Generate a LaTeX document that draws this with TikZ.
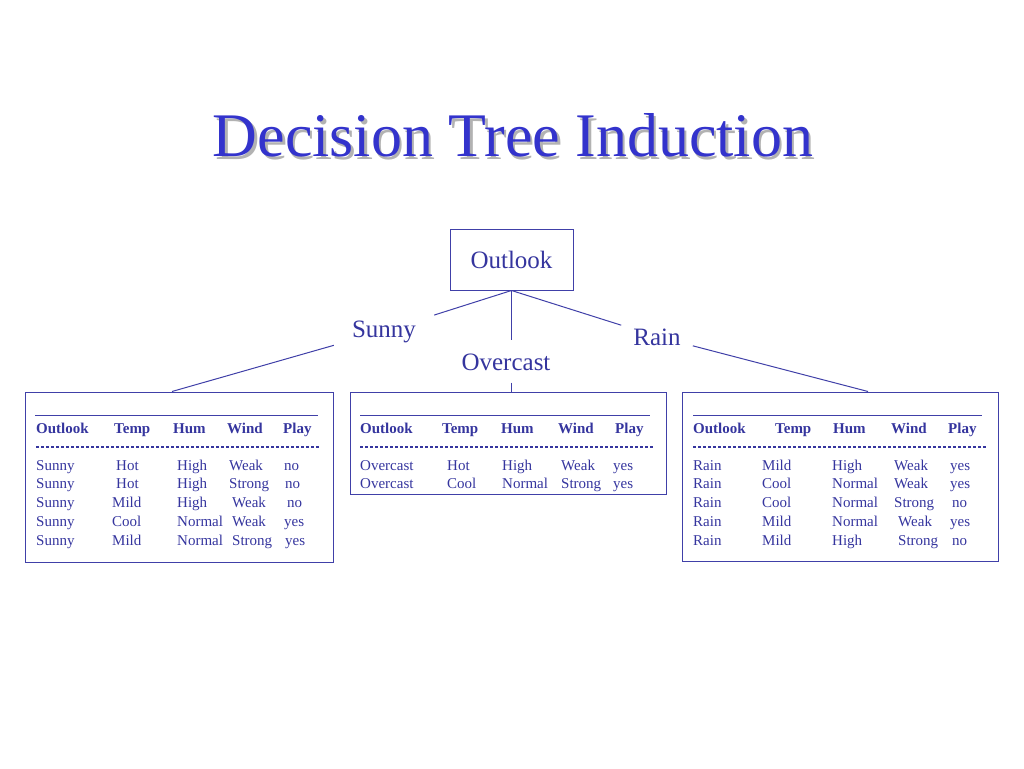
\documentclass[tikz,border=0pt]{standalone}
\usepackage{fontspec}
\setmainfont{Liberation Serif}
\usetikzlibrary{calc}
\definecolor{slideblue}{HTML}{3333CC}
\definecolor{inkblue}{HTML}{35359E}
\definecolor{rulec}{HTML}{4040A8}
\newcommand\sh[1]{\hspace*{#1pt}}
\tikzset{
  titletext/.style={font=\fontsize{62}{70}\selectfont, inner sep=0pt, anchor=base},
  rootbox/.style={draw=rulec, line width=1pt, text=inkblue, font=\fontsize{25}{30}\selectfont,
    minimum width=123pt, minimum height=61pt, inner sep=0pt},
  branch/.style={text=inkblue, font=\fontsize{25}{30}\selectfont, text height=17pt, text depth=5pt, anchor=base},
  branchline/.style={draw=rulec, line width=1pt},
  tabbox/.style={draw=rulec, line width=1pt, inner sep=0pt},
  rows/.style={text=inkblue, font=\fontsize{15}{18.75}\selectfont, inner sep=0pt, anchor=base west},
  tabrule/.style={draw=rulec, line width=1pt},
  tabdash/.style={draw=inkblue, line width=1.6pt, dash pattern=on 3.3pt off 1.7pt}
}

\begin{document}
\begin{tikzpicture}[x=1pt,y=-1pt]
		%%%%% START %%%%%
		\useasboundingbox (0,0) rectangle (1024,768);
		
		\node[titletext, text=black!30] (titleshadow) at (515.5,159) {Decision Tree Induction};
		\node[titletext, text=slideblue] (title) at (513,156) {Decision Tree Induction};
		
		\node[rootbox] (outlook) at (511.5,259.5) {Outlook};
		
		\node[branch, inner xsep=18pt, inner ysep=6pt] (sunny) at (384,337) {Sunny};
		\node[branch, text depth=0pt, inner xsep=12pt, inner ysep=6pt] (rain) at (657,345) {Rain};
		\node[branch, text depth=0pt, inner ysep=12.5pt] (overcast) at (506,370) {Overcast};
		
		\node[tabbox, minimum width=308pt, minimum height=170pt] (sunnytab) at (179,477) {};
		\node[tabbox, minimum width=316pt, minimum height=102pt] (overcasttab) at (508,443) {};
		\node[tabbox, minimum width=316pt, minimum height=169pt] (raintab) at (840,476.5) {};
		
		\coordinate (sunnyend) at ([xshift=-7pt]sunnytab.north);
		\coordinate (rainend) at ([xshift=28pt]raintab.north);
		\draw[branchline] (outlook.south) -- (sunny) -- (sunnyend);
		\draw[branchline] (outlook.south) -- (rain) -- (rainend);
		\draw[branchline] (outlook.south) -- (outlook.south |- overcast.north);
		\draw[branchline] (outlook.south |- overcast.south) -- (outlook.south |- overcasttab.north);
		
		% sunny
		\draw[tabrule] (35,415) -- (318,415);
		\draw[tabdash] (36,447) -- (319,447);
		\node[rows] (sunnyrows) at (36,433) {\setlength{\tabcolsep}{0pt}%
			\begin{tabular}[t]{@{}p{76pt}p{65pt}p{52pt}p{55pt}l@{}}
				\textbf{Outlook} & \sh{2}\textbf{Temp} & \sh{-4}\textbf{Hum} & \sh{-2}\textbf{Wind} & \sh{-1}\textbf{Play}\\[18.25pt]
				Sunny & \sh{4}Hot & High & Weak & no\\
				Sunny & \sh{4}Hot & High & Strong & \sh{1}no\\
				Sunny & Mild & High & \sh{3}Weak & \sh{3}no\\
				Sunny & Cool & Normal & \sh{3}Weak & yes\\
				Sunny & Mild & Normal & \sh{3}Strong & \sh{1}yes
			\end{tabular}};
		
		% overcast
		\draw[tabrule] (360,415) -- (650,415);
		\draw[tabdash] (360,447) -- (653,447);
		\node[rows] (overcastrows) at (360,433) {\setlength{\tabcolsep}{0pt}%
			\begin{tabular}[t]{@{}p{87pt}p{55pt}p{59pt}p{52pt}l@{}}
				\textbf{Outlook} & \sh{-5}\textbf{Temp} & \sh{-1}\textbf{Hum} & \sh{-3}\textbf{Wind} & \sh{2}\textbf{Play}\\[18.25pt]
				Overcast & Hot & High & Weak & yes\\
				Overcast & Cool & Normal & Strong & yes
			\end{tabular}};
		
		% rain
		\draw[tabrule] (693,415) -- (982,415);
		\draw[tabdash] (693,447) -- (987,447);
		\node[rows] (rainrows) at (693,433) {\setlength{\tabcolsep}{0pt}%
			\begin{tabular}[t]{@{}p{69pt}p{70pt}p{62pt}p{56pt}l@{}}
				\textbf{Outlook} & \sh{13}\textbf{Temp} & \sh{1}\textbf{Hum} & \sh{-3}\textbf{Wind} & \sh{-2}\textbf{Play}\\[18.25pt]
				Rain & Mild & High & Weak & yes\\
				Rain & Cool & Normal & Weak & yes\\
				Rain & Cool & Normal & Strong & \sh{2}no\\
				Rain & Mild & Normal & \sh{4}Weak & yes\\
				Rain & Mild & High & \sh{4}Strong & \sh{2}no
			\end{tabular}};
		
		%%%%% END %%%%%
	\end{tikzpicture}
\end{document}
